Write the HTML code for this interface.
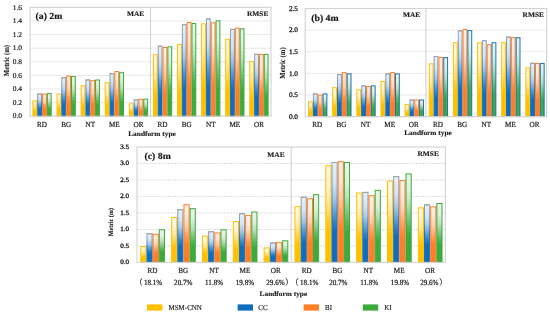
<!DOCTYPE html>
<html><head><meta charset="utf-8"><title>Metric by landform type</title>
<style>html,body{margin:0;padding:0;background:#fff;}body{width:550px;height:317px;overflow:hidden;}svg{display:block;}text{text-rendering:geometricPrecision;}text{font-family:'Liberation Serif', 'Times New Roman', serif;fill:#1a1a1a;}.b{font-weight:bold;fill:#000;}</style>
</head><body>
<svg width="550" height="317" viewBox="0 0 550 317">
<defs>
<linearGradient id="gy" x1="0" y1="0" x2="0" y2="1">
<stop offset="0.000" stop-color="#FFF9E6"/>
<stop offset="0.200" stop-color="#FFF4D1"/>
<stop offset="0.350" stop-color="#FFE8A3"/>
<stop offset="0.480" stop-color="#FFD861"/>
<stop offset="0.600" stop-color="#FFC924"/>
<stop offset="0.700" stop-color="#FFC000"/>
<stop offset="1.000" stop-color="#FFC000"/>
</linearGradient>
<linearGradient id="gb" x1="0" y1="0" x2="0" y2="1">
<stop offset="0.000" stop-color="#E7F0F8"/>
<stop offset="0.200" stop-color="#D4E5F3"/>
<stop offset="0.350" stop-color="#A8CBE8"/>
<stop offset="0.480" stop-color="#6AA5D7"/>
<stop offset="0.600" stop-color="#3082C7"/>
<stop offset="0.700" stop-color="#0E6EBE"/>
<stop offset="1.000" stop-color="#0E6EBE"/>
</linearGradient>
<linearGradient id="go" x1="0" y1="0" x2="0" y2="1">
<stop offset="0.000" stop-color="#FFF2E9"/>
<stop offset="0.200" stop-color="#FFE8D8"/>
<stop offset="0.350" stop-color="#FFD1B1"/>
<stop offset="0.480" stop-color="#FFB079"/>
<stop offset="0.600" stop-color="#FF9145"/>
<stop offset="0.700" stop-color="#FF7F27"/>
<stop offset="1.000" stop-color="#FF7F27"/>
</linearGradient>
<linearGradient id="gg" x1="0" y1="0" x2="0" y2="1">
<stop offset="0.000" stop-color="#ECF6EC"/>
<stop offset="0.200" stop-color="#DCF0DC"/>
<stop offset="0.350" stop-color="#BAE0BA"/>
<stop offset="0.480" stop-color="#87CA87"/>
<stop offset="0.600" stop-color="#59B659"/>
<stop offset="0.700" stop-color="#3EAA3E"/>
<stop offset="1.000" stop-color="#3EAA3E"/>
</linearGradient>
<linearGradient id="sb" x1="0" y1="0" x2="0" y2="1"><stop offset="0" stop-color="#9AA2B0"/><stop offset="0.3" stop-color="#6E92BC"/><stop offset="0.5" stop-color="#1A72BE"/></linearGradient>
</defs>
<rect width="550" height="317" fill="#fff"/>
<line x1="30.00" y1="102.60" x2="271.00" y2="102.60" stroke="#E8E8E8" stroke-width="1"/>
<line x1="30.00" y1="89.00" x2="271.00" y2="89.00" stroke="#E8E8E8" stroke-width="1"/>
<line x1="30.00" y1="75.40" x2="271.00" y2="75.40" stroke="#E8E8E8" stroke-width="1"/>
<line x1="30.00" y1="61.80" x2="271.00" y2="61.80" stroke="#E8E8E8" stroke-width="1"/>
<line x1="30.00" y1="48.20" x2="271.00" y2="48.20" stroke="#E8E8E8" stroke-width="1"/>
<line x1="30.00" y1="34.60" x2="271.00" y2="34.60" stroke="#E8E8E8" stroke-width="1"/>
<line x1="30.00" y1="21.00" x2="271.00" y2="21.00" stroke="#E8E8E8" stroke-width="1"/>
<rect x="32.91" y="100.86" width="3.82" height="15.34" fill="url(#gy)" stroke="#FFC000" stroke-width="1.00"/>
<rect x="37.73" y="94.06" width="3.82" height="22.14" fill="url(#gb)" stroke="url(#sb)" stroke-width="1.00"/>
<line x1="37.43" y1="94.06" x2="41.85" y2="94.06" stroke="#9DA3B0" stroke-width="1.00"/>
<rect x="42.55" y="94.06" width="3.82" height="22.14" fill="url(#go)" stroke="#FF7F27" stroke-width="1.00"/>
<rect x="47.37" y="93.58" width="3.82" height="22.62" fill="url(#gg)" stroke="#3EAA3E" stroke-width="1.00"/>
<rect x="57.01" y="94.06" width="3.82" height="22.14" fill="url(#gy)" stroke="#FFC000" stroke-width="1.00"/>
<rect x="61.83" y="77.74" width="3.82" height="38.46" fill="url(#gb)" stroke="url(#sb)" stroke-width="1.00"/>
<line x1="61.53" y1="77.74" x2="65.95" y2="77.74" stroke="#9DA3B0" stroke-width="1.00"/>
<rect x="66.65" y="76.10" width="3.82" height="40.10" fill="url(#go)" stroke="#FF7F27" stroke-width="1.00"/>
<rect x="71.47" y="76.58" width="3.82" height="39.62" fill="url(#gg)" stroke="#3EAA3E" stroke-width="1.00"/>
<rect x="81.11" y="85.69" width="3.82" height="30.51" fill="url(#gy)" stroke="#FFC000" stroke-width="1.00"/>
<rect x="85.93" y="79.98" width="3.82" height="36.22" fill="url(#gb)" stroke="url(#sb)" stroke-width="1.00"/>
<line x1="85.63" y1="79.98" x2="90.05" y2="79.98" stroke="#9DA3B0" stroke-width="1.00"/>
<rect x="90.75" y="80.66" width="3.82" height="35.54" fill="url(#go)" stroke="#FF7F27" stroke-width="1.00"/>
<rect x="95.57" y="79.98" width="3.82" height="36.22" fill="url(#gg)" stroke="#3EAA3E" stroke-width="1.00"/>
<rect x="105.21" y="82.70" width="3.82" height="33.50" fill="url(#gy)" stroke="#FFC000" stroke-width="1.00"/>
<rect x="110.03" y="73.66" width="3.82" height="42.54" fill="url(#gb)" stroke="url(#sb)" stroke-width="1.00"/>
<line x1="109.73" y1="73.66" x2="114.15" y2="73.66" stroke="#9DA3B0" stroke-width="1.00"/>
<rect x="114.85" y="71.55" width="3.82" height="44.65" fill="url(#go)" stroke="#FF7F27" stroke-width="1.00"/>
<rect x="119.67" y="72.70" width="3.82" height="43.50" fill="url(#gg)" stroke="#3EAA3E" stroke-width="1.00"/>
<rect x="129.31" y="103.78" width="3.82" height="12.42" fill="url(#gy)" stroke="#FFC000" stroke-width="1.00"/>
<rect x="134.13" y="99.77" width="3.82" height="16.43" fill="url(#gb)" stroke="url(#sb)" stroke-width="1.00"/>
<line x1="133.83" y1="99.77" x2="138.25" y2="99.77" stroke="#9DA3B0" stroke-width="1.00"/>
<rect x="138.95" y="99.36" width="3.82" height="16.84" fill="url(#go)" stroke="#FF7F27" stroke-width="1.00"/>
<rect x="143.77" y="99.16" width="3.82" height="17.04" fill="url(#gg)" stroke="#3EAA3E" stroke-width="1.00"/>
<rect x="153.41" y="54.75" width="3.82" height="61.45" fill="url(#gy)" stroke="#FFC000" stroke-width="1.00"/>
<rect x="158.23" y="46.18" width="3.82" height="70.02" fill="url(#gb)" stroke="url(#sb)" stroke-width="1.00"/>
<line x1="157.93" y1="46.18" x2="162.35" y2="46.18" stroke="#9DA3B0" stroke-width="1.00"/>
<rect x="163.05" y="47.48" width="3.82" height="68.72" fill="url(#go)" stroke="#FF7F27" stroke-width="1.00"/>
<rect x="167.87" y="46.80" width="3.82" height="69.40" fill="url(#gg)" stroke="#3EAA3E" stroke-width="1.00"/>
<rect x="177.51" y="44.48" width="3.82" height="71.72" fill="url(#gy)" stroke="#FFC000" stroke-width="1.00"/>
<rect x="182.33" y="24.70" width="3.82" height="91.50" fill="url(#gb)" stroke="url(#sb)" stroke-width="1.00"/>
<line x1="182.03" y1="24.70" x2="186.45" y2="24.70" stroke="#9DA3B0" stroke-width="1.00"/>
<rect x="187.15" y="22.52" width="3.82" height="93.68" fill="url(#go)" stroke="#FF7F27" stroke-width="1.00"/>
<rect x="191.97" y="23.54" width="3.82" height="92.66" fill="url(#gg)" stroke="#3EAA3E" stroke-width="1.00"/>
<rect x="201.61" y="23.81" width="3.82" height="92.39" fill="url(#gy)" stroke="#FFC000" stroke-width="1.00"/>
<rect x="206.43" y="18.98" width="3.82" height="97.22" fill="url(#gb)" stroke="url(#sb)" stroke-width="1.00"/>
<line x1="206.13" y1="18.98" x2="210.55" y2="18.98" stroke="#9DA3B0" stroke-width="1.00"/>
<rect x="211.25" y="22.86" width="3.82" height="93.34" fill="url(#go)" stroke="#FF7F27" stroke-width="1.00"/>
<rect x="216.07" y="20.82" width="3.82" height="95.38" fill="url(#gg)" stroke="#3EAA3E" stroke-width="1.00"/>
<rect x="225.71" y="39.32" width="3.82" height="76.88" fill="url(#gy)" stroke="#FFC000" stroke-width="1.00"/>
<rect x="230.53" y="29.39" width="3.82" height="86.81" fill="url(#gb)" stroke="url(#sb)" stroke-width="1.00"/>
<line x1="230.23" y1="29.39" x2="234.65" y2="29.39" stroke="#9DA3B0" stroke-width="1.00"/>
<rect x="235.35" y="28.16" width="3.82" height="88.04" fill="url(#go)" stroke="#FF7F27" stroke-width="1.00"/>
<rect x="240.17" y="28.84" width="3.82" height="87.36" fill="url(#gg)" stroke="#3EAA3E" stroke-width="1.00"/>
<rect x="249.81" y="61.62" width="3.82" height="54.58" fill="url(#gy)" stroke="#FFC000" stroke-width="1.00"/>
<rect x="254.63" y="54.34" width="3.82" height="61.86" fill="url(#gb)" stroke="url(#sb)" stroke-width="1.00"/>
<line x1="254.33" y1="54.34" x2="258.75" y2="54.34" stroke="#9DA3B0" stroke-width="1.00"/>
<rect x="259.45" y="54.34" width="3.82" height="61.86" fill="url(#go)" stroke="#FF7F27" stroke-width="1.00"/>
<rect x="264.27" y="54.34" width="3.82" height="61.86" fill="url(#gg)" stroke="#3EAA3E" stroke-width="1.00"/>
<rect x="30.00" y="7.40" width="241.00" height="108.80" fill="none" stroke="#D2D2D2" stroke-width="1.1"/>
<line x1="150.50" y1="7.40" x2="150.50" y2="116.20" stroke="#D2D2D2" stroke-width="1.1"/>
<text transform="translate(22.00 118.45) scale(1.040 1)" font-size="7.20" font-weight="normal" text-anchor="end" stroke="#1a1a1a" stroke-width="0.20">0.0</text>
<text transform="translate(22.00 104.85) scale(1.040 1)" font-size="7.20" font-weight="normal" text-anchor="end" stroke="#1a1a1a" stroke-width="0.20">0.2</text>
<text transform="translate(22.00 91.25) scale(1.040 1)" font-size="7.20" font-weight="normal" text-anchor="end" stroke="#1a1a1a" stroke-width="0.20">0.4</text>
<text transform="translate(22.00 77.65) scale(1.040 1)" font-size="7.20" font-weight="normal" text-anchor="end" stroke="#1a1a1a" stroke-width="0.20">0.6</text>
<text transform="translate(22.00 64.05) scale(1.040 1)" font-size="7.20" font-weight="normal" text-anchor="end" stroke="#1a1a1a" stroke-width="0.20">0.8</text>
<text transform="translate(22.00 50.45) scale(1.040 1)" font-size="7.20" font-weight="normal" text-anchor="end" stroke="#1a1a1a" stroke-width="0.20">1.0</text>
<text transform="translate(22.00 36.85) scale(1.040 1)" font-size="7.20" font-weight="normal" text-anchor="end" stroke="#1a1a1a" stroke-width="0.20">1.2</text>
<text transform="translate(22.00 23.25) scale(1.040 1)" font-size="7.20" font-weight="normal" text-anchor="end" stroke="#1a1a1a" stroke-width="0.20">1.4</text>
<text transform="translate(22.00 9.65) scale(1.040 1)" font-size="7.20" font-weight="normal" text-anchor="end" stroke="#1a1a1a" stroke-width="0.20">1.6</text>
<text transform="translate(42.05 126.50) scale(0.930 1)" font-size="7.70" font-weight="normal" text-anchor="middle" stroke="#1a1a1a" stroke-width="0.20">RD</text>
<text transform="translate(66.15 126.50) scale(0.930 1)" font-size="7.70" font-weight="normal" text-anchor="middle" stroke="#1a1a1a" stroke-width="0.20">BG</text>
<text transform="translate(90.25 126.50) scale(0.930 1)" font-size="7.70" font-weight="normal" text-anchor="middle" stroke="#1a1a1a" stroke-width="0.20">NT</text>
<text transform="translate(114.35 126.50) scale(0.930 1)" font-size="7.70" font-weight="normal" text-anchor="middle" stroke="#1a1a1a" stroke-width="0.20">ME</text>
<text transform="translate(138.45 126.50) scale(0.930 1)" font-size="7.70" font-weight="normal" text-anchor="middle" stroke="#1a1a1a" stroke-width="0.20">OR</text>
<text transform="translate(162.55 126.50) scale(0.930 1)" font-size="7.70" font-weight="normal" text-anchor="middle" stroke="#1a1a1a" stroke-width="0.20">RD</text>
<text transform="translate(186.65 126.50) scale(0.930 1)" font-size="7.70" font-weight="normal" text-anchor="middle" stroke="#1a1a1a" stroke-width="0.20">BG</text>
<text transform="translate(210.75 126.50) scale(0.930 1)" font-size="7.70" font-weight="normal" text-anchor="middle" stroke="#1a1a1a" stroke-width="0.20">NT</text>
<text transform="translate(234.85 126.50) scale(0.930 1)" font-size="7.70" font-weight="normal" text-anchor="middle" stroke="#1a1a1a" stroke-width="0.20">ME</text>
<text transform="translate(258.95 126.50) scale(0.930 1)" font-size="7.70" font-weight="normal" text-anchor="middle" stroke="#1a1a1a" stroke-width="0.20">OR</text>
<text transform="translate(35.50 19.40) scale(1.050 1)" font-size="9.30" font-weight="bold" text-anchor="start" stroke="#1a1a1a" stroke-width="0.20">(a) 2m</text>
<text transform="translate(144.30 15.60) scale(1.060 1)" font-size="7.00" font-weight="bold" text-anchor="end" stroke="#1a1a1a" stroke-width="0.15">MAE</text>
<text transform="translate(268.40 15.50) scale(1.060 1)" font-size="7.00" font-weight="bold" text-anchor="end" stroke="#1a1a1a" stroke-width="0.15">RMSE</text>
<text transform="translate(152.00 135.50) scale(1.050 1)" font-size="7.00" font-weight="bold" text-anchor="middle" stroke="#1a1a1a" stroke-width="0.12">Landform type</text>
<text transform="translate(9.00 60.60) rotate(-90) scale(1 1.140)" font-size="6.75" font-weight="bold" text-anchor="middle" stroke="#1a1a1a" stroke-width="0.10">Metric (m)</text>
<line x1="305.20" y1="94.98" x2="546.60" y2="94.98" stroke="#DADADA" stroke-width="0.9" stroke-dasharray="1 0.7"/>
<line x1="305.20" y1="73.36" x2="546.60" y2="73.36" stroke="#DADADA" stroke-width="0.9" stroke-dasharray="1 0.7"/>
<line x1="305.20" y1="51.74" x2="546.60" y2="51.74" stroke="#DADADA" stroke-width="0.9" stroke-dasharray="1 0.7"/>
<line x1="305.20" y1="30.12" x2="546.60" y2="30.12" stroke="#DADADA" stroke-width="0.9" stroke-dasharray="1 0.7"/>
<rect x="308.56" y="101.79" width="3.83" height="14.81" fill="url(#gy)" stroke="#FFC000" stroke-width="1.00"/>
<rect x="313.39" y="93.88" width="3.83" height="22.72" fill="url(#gb)" stroke="url(#sb)" stroke-width="1.00"/>
<line x1="313.09" y1="93.88" x2="317.52" y2="93.88" stroke="#9DA3B0" stroke-width="1.00"/>
<rect x="318.22" y="95.05" width="3.83" height="21.55" fill="url(#go)" stroke="#FF7F27" stroke-width="1.00"/>
<rect x="323.05" y="93.88" width="3.83" height="22.72" fill="url(#gg)" stroke="#1A72BE" stroke-width="1.00"/>
<rect x="332.70" y="87.70" width="3.83" height="28.90" fill="url(#gy)" stroke="#FFC000" stroke-width="1.00"/>
<rect x="337.53" y="74.55" width="3.83" height="42.05" fill="url(#gb)" stroke="url(#sb)" stroke-width="1.00"/>
<line x1="337.23" y1="74.55" x2="341.66" y2="74.55" stroke="#9DA3B0" stroke-width="1.00"/>
<rect x="342.36" y="72.56" width="3.83" height="44.04" fill="url(#go)" stroke="#FF7F27" stroke-width="1.00"/>
<rect x="347.19" y="73.86" width="3.83" height="42.74" fill="url(#gg)" stroke="#1A72BE" stroke-width="1.00"/>
<rect x="356.84" y="89.77" width="3.83" height="26.83" fill="url(#gy)" stroke="#FFC000" stroke-width="1.00"/>
<rect x="361.67" y="85.88" width="3.83" height="30.72" fill="url(#gb)" stroke="url(#sb)" stroke-width="1.00"/>
<line x1="361.37" y1="85.88" x2="365.80" y2="85.88" stroke="#9DA3B0" stroke-width="1.00"/>
<rect x="366.50" y="86.57" width="3.83" height="30.03" fill="url(#go)" stroke="#FF7F27" stroke-width="1.00"/>
<rect x="371.33" y="85.88" width="3.83" height="30.72" fill="url(#gg)" stroke="#1A72BE" stroke-width="1.00"/>
<rect x="380.98" y="81.38" width="3.83" height="35.22" fill="url(#gy)" stroke="#FFC000" stroke-width="1.00"/>
<rect x="385.81" y="73.86" width="3.83" height="42.74" fill="url(#gb)" stroke="url(#sb)" stroke-width="1.00"/>
<line x1="385.51" y1="73.86" x2="389.94" y2="73.86" stroke="#9DA3B0" stroke-width="1.00"/>
<rect x="390.64" y="72.56" width="3.83" height="44.04" fill="url(#go)" stroke="#FF7F27" stroke-width="1.00"/>
<rect x="395.47" y="73.86" width="3.83" height="42.74" fill="url(#gg)" stroke="#1A72BE" stroke-width="1.00"/>
<rect x="405.12" y="104.56" width="3.83" height="12.04" fill="url(#gy)" stroke="#FFC000" stroke-width="1.00"/>
<rect x="409.95" y="99.98" width="3.83" height="16.62" fill="url(#gb)" stroke="url(#sb)" stroke-width="1.00"/>
<line x1="409.65" y1="99.98" x2="414.08" y2="99.98" stroke="#9DA3B0" stroke-width="1.00"/>
<rect x="414.78" y="99.98" width="3.83" height="16.62" fill="url(#go)" stroke="#FF7F27" stroke-width="1.00"/>
<rect x="419.61" y="99.98" width="3.83" height="16.62" fill="url(#gg)" stroke="#1A72BE" stroke-width="1.00"/>
<rect x="429.26" y="63.87" width="3.83" height="52.73" fill="url(#gy)" stroke="#FFC000" stroke-width="1.00"/>
<rect x="434.09" y="56.52" width="3.83" height="60.08" fill="url(#gb)" stroke="url(#sb)" stroke-width="1.00"/>
<line x1="433.79" y1="56.52" x2="438.22" y2="56.52" stroke="#9DA3B0" stroke-width="1.00"/>
<rect x="438.92" y="57.39" width="3.83" height="59.21" fill="url(#go)" stroke="#FF7F27" stroke-width="1.00"/>
<rect x="443.75" y="57.64" width="3.83" height="58.95" fill="url(#gg)" stroke="#1A72BE" stroke-width="1.00"/>
<rect x="453.40" y="42.68" width="3.83" height="73.92" fill="url(#gy)" stroke="#FFC000" stroke-width="1.00"/>
<rect x="458.23" y="30.84" width="3.83" height="85.76" fill="url(#gb)" stroke="url(#sb)" stroke-width="1.00"/>
<line x1="457.93" y1="30.84" x2="462.36" y2="30.84" stroke="#9DA3B0" stroke-width="1.00"/>
<rect x="463.06" y="29.50" width="3.83" height="87.10" fill="url(#go)" stroke="#FF7F27" stroke-width="1.00"/>
<rect x="467.89" y="30.58" width="3.83" height="86.02" fill="url(#gg)" stroke="#1A72BE" stroke-width="1.00"/>
<rect x="477.54" y="42.73" width="3.83" height="73.87" fill="url(#gy)" stroke="#FFC000" stroke-width="1.00"/>
<rect x="482.37" y="40.74" width="3.83" height="75.86" fill="url(#gb)" stroke="url(#sb)" stroke-width="1.00"/>
<line x1="482.07" y1="40.74" x2="486.50" y2="40.74" stroke="#9DA3B0" stroke-width="1.00"/>
<rect x="487.20" y="44.59" width="3.83" height="72.01" fill="url(#go)" stroke="#FF7F27" stroke-width="1.00"/>
<rect x="492.03" y="42.73" width="3.83" height="73.87" fill="url(#gg)" stroke="#1A72BE" stroke-width="1.00"/>
<rect x="501.68" y="42.68" width="3.83" height="73.92" fill="url(#gy)" stroke="#FFC000" stroke-width="1.00"/>
<rect x="506.51" y="37.11" width="3.83" height="79.49" fill="url(#gb)" stroke="url(#sb)" stroke-width="1.00"/>
<line x1="506.21" y1="37.11" x2="510.64" y2="37.11" stroke="#9DA3B0" stroke-width="1.00"/>
<rect x="511.34" y="37.50" width="3.83" height="79.10" fill="url(#go)" stroke="#FF7F27" stroke-width="1.00"/>
<rect x="516.17" y="37.75" width="3.83" height="78.85" fill="url(#gg)" stroke="#1A72BE" stroke-width="1.00"/>
<rect x="525.82" y="67.81" width="3.83" height="48.79" fill="url(#gy)" stroke="#FFC000" stroke-width="1.00"/>
<rect x="530.65" y="63.27" width="3.83" height="53.33" fill="url(#gb)" stroke="url(#sb)" stroke-width="1.00"/>
<line x1="530.35" y1="63.27" x2="534.78" y2="63.27" stroke="#9DA3B0" stroke-width="1.00"/>
<rect x="535.48" y="63.44" width="3.83" height="53.16" fill="url(#go)" stroke="#FF7F27" stroke-width="1.00"/>
<rect x="540.31" y="63.44" width="3.83" height="53.16" fill="url(#gg)" stroke="#1A72BE" stroke-width="1.00"/>
<rect x="305.20" y="8.50" width="241.40" height="108.10" fill="none" stroke="#D2D2D2" stroke-width="1.1"/>
<line x1="425.90" y1="8.50" x2="425.90" y2="116.60" stroke="#D2D2D2" stroke-width="1.1"/>
<text transform="translate(298.00 118.80) scale(1.040 1)" font-size="7.00" font-weight="normal" text-anchor="end" stroke="#1a1a1a" stroke-width="0.30">0.0</text>
<text transform="translate(298.00 97.18) scale(1.040 1)" font-size="7.00" font-weight="normal" text-anchor="end" stroke="#1a1a1a" stroke-width="0.30">0.5</text>
<text transform="translate(298.00 75.56) scale(1.040 1)" font-size="7.00" font-weight="normal" text-anchor="end" stroke="#1a1a1a" stroke-width="0.30">1.0</text>
<text transform="translate(298.00 53.94) scale(1.040 1)" font-size="7.00" font-weight="normal" text-anchor="end" stroke="#1a1a1a" stroke-width="0.30">1.5</text>
<text transform="translate(298.00 32.32) scale(1.040 1)" font-size="7.00" font-weight="normal" text-anchor="end" stroke="#1a1a1a" stroke-width="0.30">2.0</text>
<text transform="translate(298.00 10.70) scale(1.040 1)" font-size="7.00" font-weight="normal" text-anchor="end" stroke="#1a1a1a" stroke-width="0.30">2.5</text>
<text transform="translate(317.27 127.20) scale(0.930 1)" font-size="7.70" font-weight="normal" text-anchor="middle" stroke="#1a1a1a" stroke-width="0.20">RD</text>
<text transform="translate(341.41 127.20) scale(0.930 1)" font-size="7.70" font-weight="normal" text-anchor="middle" stroke="#1a1a1a" stroke-width="0.20">BG</text>
<text transform="translate(365.55 127.20) scale(0.930 1)" font-size="7.70" font-weight="normal" text-anchor="middle" stroke="#1a1a1a" stroke-width="0.20">NT</text>
<text transform="translate(389.69 127.20) scale(0.930 1)" font-size="7.70" font-weight="normal" text-anchor="middle" stroke="#1a1a1a" stroke-width="0.20">ME</text>
<text transform="translate(413.83 127.20) scale(0.930 1)" font-size="7.70" font-weight="normal" text-anchor="middle" stroke="#1a1a1a" stroke-width="0.20">OR</text>
<text transform="translate(437.97 127.20) scale(0.930 1)" font-size="7.70" font-weight="normal" text-anchor="middle" stroke="#1a1a1a" stroke-width="0.20">RD</text>
<text transform="translate(462.11 127.20) scale(0.930 1)" font-size="7.70" font-weight="normal" text-anchor="middle" stroke="#1a1a1a" stroke-width="0.20">BG</text>
<text transform="translate(486.25 127.20) scale(0.930 1)" font-size="7.70" font-weight="normal" text-anchor="middle" stroke="#1a1a1a" stroke-width="0.20">NT</text>
<text transform="translate(510.39 127.20) scale(0.930 1)" font-size="7.70" font-weight="normal" text-anchor="middle" stroke="#1a1a1a" stroke-width="0.20">ME</text>
<text transform="translate(534.53 127.20) scale(0.930 1)" font-size="7.70" font-weight="normal" text-anchor="middle" stroke="#1a1a1a" stroke-width="0.20">OR</text>
<text transform="translate(311.20 20.90) scale(1.050 1)" font-size="9.30" font-weight="bold" text-anchor="start" stroke="#1a1a1a" stroke-width="0.20">(b) 4m</text>
<text transform="translate(420.20 17.15) scale(1.060 1)" font-size="7.00" font-weight="bold" text-anchor="end" stroke="#1a1a1a" stroke-width="0.15">MAE</text>
<text transform="translate(544.00 17.05) scale(1.060 1)" font-size="7.00" font-weight="bold" text-anchor="end" stroke="#1a1a1a" stroke-width="0.15">RMSE</text>
<text transform="translate(428.00 135.40) scale(1.050 1)" font-size="7.00" font-weight="bold" text-anchor="middle" stroke="#1a1a1a" stroke-width="0.12">Landform type</text>
<text transform="translate(284.60 63.00) rotate(-90) scale(1 1.140)" font-size="6.75" font-weight="bold" text-anchor="middle" stroke="#1a1a1a" stroke-width="0.10">Metric (m)</text>
<line x1="137.00" y1="245.91" x2="445.40" y2="245.91" stroke="#D6D6D6" stroke-width="0.85" stroke-dasharray="2 1.1"/>
<line x1="137.00" y1="229.43" x2="445.40" y2="229.43" stroke="#D6D6D6" stroke-width="0.85" stroke-dasharray="2 1.1"/>
<line x1="137.00" y1="212.94" x2="445.40" y2="212.94" stroke="#D6D6D6" stroke-width="0.85" stroke-dasharray="2 1.1"/>
<line x1="137.00" y1="196.46" x2="445.40" y2="196.46" stroke="#D6D6D6" stroke-width="0.85" stroke-dasharray="2 1.1"/>
<line x1="137.00" y1="179.97" x2="445.40" y2="179.97" stroke="#D6D6D6" stroke-width="0.85" stroke-dasharray="2 1.1"/>
<line x1="137.00" y1="163.49" x2="445.40" y2="163.49" stroke="#D6D6D6" stroke-width="0.85" stroke-dasharray="2 1.1"/>
<rect x="140.78" y="246.58" width="5.17" height="15.82" fill="url(#gy)" stroke="#FFC000" stroke-width="1.00"/>
<rect x="146.95" y="233.72" width="5.17" height="28.68" fill="url(#gb)" stroke="url(#sb)" stroke-width="1.00"/>
<line x1="146.65" y1="233.72" x2="152.42" y2="233.72" stroke="#9DA3B0" stroke-width="1.00"/>
<rect x="153.12" y="234.21" width="5.17" height="28.19" fill="url(#go)" stroke="#FF7F27" stroke-width="1.00"/>
<rect x="159.29" y="229.76" width="5.17" height="32.64" fill="url(#gg)" stroke="#3EAA3E" stroke-width="1.00"/>
<rect x="171.62" y="217.56" width="5.17" height="44.84" fill="url(#gy)" stroke="#FFC000" stroke-width="1.00"/>
<rect x="177.79" y="209.65" width="5.17" height="52.75" fill="url(#gb)" stroke="url(#sb)" stroke-width="1.00"/>
<line x1="177.49" y1="209.65" x2="183.26" y2="209.65" stroke="#9DA3B0" stroke-width="1.00"/>
<rect x="183.96" y="204.71" width="5.17" height="57.69" fill="url(#go)" stroke="#FF7F27" stroke-width="1.00"/>
<rect x="190.13" y="208.66" width="5.17" height="53.74" fill="url(#gg)" stroke="#3EAA3E" stroke-width="1.00"/>
<rect x="202.46" y="236.19" width="5.17" height="26.21" fill="url(#gy)" stroke="#FFC000" stroke-width="1.00"/>
<rect x="208.63" y="231.74" width="5.17" height="30.66" fill="url(#gb)" stroke="url(#sb)" stroke-width="1.00"/>
<line x1="208.33" y1="231.74" x2="214.10" y2="231.74" stroke="#9DA3B0" stroke-width="1.00"/>
<rect x="214.80" y="232.90" width="5.17" height="29.50" fill="url(#go)" stroke="#FF7F27" stroke-width="1.00"/>
<rect x="220.97" y="229.76" width="5.17" height="32.64" fill="url(#gg)" stroke="#3EAA3E" stroke-width="1.00"/>
<rect x="233.30" y="221.52" width="5.17" height="40.88" fill="url(#gy)" stroke="#FFC000" stroke-width="1.00"/>
<rect x="239.47" y="213.77" width="5.17" height="48.63" fill="url(#gb)" stroke="url(#sb)" stroke-width="1.00"/>
<line x1="239.17" y1="213.77" x2="244.94" y2="213.77" stroke="#9DA3B0" stroke-width="1.00"/>
<rect x="245.64" y="215.42" width="5.17" height="46.98" fill="url(#go)" stroke="#FF7F27" stroke-width="1.00"/>
<rect x="251.81" y="211.96" width="5.17" height="50.44" fill="url(#gg)" stroke="#3EAA3E" stroke-width="1.00"/>
<rect x="264.14" y="247.90" width="5.17" height="14.50" fill="url(#gy)" stroke="#FFC000" stroke-width="1.00"/>
<rect x="270.31" y="242.95" width="5.17" height="19.45" fill="url(#gb)" stroke="url(#sb)" stroke-width="1.00"/>
<line x1="270.01" y1="242.95" x2="275.78" y2="242.95" stroke="#9DA3B0" stroke-width="1.00"/>
<rect x="276.48" y="242.62" width="5.17" height="19.78" fill="url(#go)" stroke="#FF7F27" stroke-width="1.00"/>
<rect x="282.65" y="240.81" width="5.17" height="21.59" fill="url(#gg)" stroke="#3EAA3E" stroke-width="1.00"/>
<rect x="294.98" y="206.65" width="5.17" height="55.75" fill="url(#gy)" stroke="#FFC000" stroke-width="1.00"/>
<rect x="301.15" y="197.29" width="5.17" height="65.11" fill="url(#gb)" stroke="url(#sb)" stroke-width="1.00"/>
<line x1="300.85" y1="197.29" x2="306.62" y2="197.29" stroke="#9DA3B0" stroke-width="1.00"/>
<rect x="307.32" y="198.74" width="5.17" height="63.66" fill="url(#go)" stroke="#FF7F27" stroke-width="1.00"/>
<rect x="313.49" y="194.65" width="5.17" height="67.75" fill="url(#gg)" stroke="#3EAA3E" stroke-width="1.00"/>
<rect x="325.82" y="165.63" width="5.17" height="96.77" fill="url(#gy)" stroke="#FFC000" stroke-width="1.00"/>
<rect x="331.99" y="162.47" width="5.17" height="99.93" fill="url(#gb)" stroke="url(#sb)" stroke-width="1.00"/>
<line x1="331.69" y1="162.47" x2="337.46" y2="162.47" stroke="#9DA3B0" stroke-width="1.00"/>
<rect x="338.16" y="161.68" width="5.17" height="100.72" fill="url(#go)" stroke="#FF7F27" stroke-width="1.00"/>
<rect x="344.33" y="162.47" width="5.17" height="99.93" fill="url(#gg)" stroke="#3EAA3E" stroke-width="1.00"/>
<rect x="356.66" y="193.00" width="5.17" height="69.40" fill="url(#gy)" stroke="#FFC000" stroke-width="1.00"/>
<rect x="362.83" y="192.41" width="5.17" height="69.99" fill="url(#gb)" stroke="url(#sb)" stroke-width="1.00"/>
<line x1="362.53" y1="192.41" x2="368.30" y2="192.41" stroke="#9DA3B0" stroke-width="1.00"/>
<rect x="369.00" y="195.67" width="5.17" height="66.73" fill="url(#go)" stroke="#FF7F27" stroke-width="1.00"/>
<rect x="375.17" y="190.36" width="5.17" height="72.04" fill="url(#gg)" stroke="#3EAA3E" stroke-width="1.00"/>
<rect x="387.50" y="181.13" width="5.17" height="81.27" fill="url(#gy)" stroke="#FFC000" stroke-width="1.00"/>
<rect x="393.67" y="176.58" width="5.17" height="85.82" fill="url(#gb)" stroke="url(#sb)" stroke-width="1.00"/>
<line x1="393.37" y1="176.58" x2="399.14" y2="176.58" stroke="#9DA3B0" stroke-width="1.00"/>
<rect x="399.84" y="180.54" width="5.17" height="81.86" fill="url(#go)" stroke="#FF7F27" stroke-width="1.00"/>
<rect x="406.01" y="173.88" width="5.17" height="88.52" fill="url(#gg)" stroke="#3EAA3E" stroke-width="1.00"/>
<rect x="418.34" y="207.84" width="5.17" height="54.56" fill="url(#gy)" stroke="#FFC000" stroke-width="1.00"/>
<rect x="424.51" y="204.90" width="5.17" height="57.50" fill="url(#gb)" stroke="url(#sb)" stroke-width="1.00"/>
<line x1="424.21" y1="204.90" x2="429.98" y2="204.90" stroke="#9DA3B0" stroke-width="1.00"/>
<rect x="430.68" y="206.85" width="5.17" height="55.55" fill="url(#go)" stroke="#FF7F27" stroke-width="1.00"/>
<rect x="436.85" y="203.55" width="5.17" height="58.85" fill="url(#gg)" stroke="#3EAA3E" stroke-width="1.00"/>
<rect x="137.00" y="147.00" width="308.40" height="115.40" fill="none" stroke="#D2D2D2" stroke-width="1.1"/>
<line x1="291.20" y1="147.00" x2="291.20" y2="262.40" stroke="#D2D2D2" stroke-width="1.1"/>
<text transform="translate(129.10 264.40) scale(1.080 1)" font-size="6.60" font-weight="normal" text-anchor="end" stroke="#1a1a1a" stroke-width="0.30">0.0</text>
<text transform="translate(129.10 247.91) scale(1.080 1)" font-size="6.60" font-weight="normal" text-anchor="end" stroke="#1a1a1a" stroke-width="0.30">0.5</text>
<text transform="translate(129.10 231.43) scale(1.080 1)" font-size="6.60" font-weight="normal" text-anchor="end" stroke="#1a1a1a" stroke-width="0.30">1.0</text>
<text transform="translate(129.10 214.94) scale(1.080 1)" font-size="6.60" font-weight="normal" text-anchor="end" stroke="#1a1a1a" stroke-width="0.30">1.5</text>
<text transform="translate(129.10 198.46) scale(1.080 1)" font-size="6.60" font-weight="normal" text-anchor="end" stroke="#1a1a1a" stroke-width="0.30">2.0</text>
<text transform="translate(129.10 181.97) scale(1.080 1)" font-size="6.60" font-weight="normal" text-anchor="end" stroke="#1a1a1a" stroke-width="0.30">2.5</text>
<text transform="translate(129.10 165.49) scale(1.080 1)" font-size="6.60" font-weight="normal" text-anchor="end" stroke="#1a1a1a" stroke-width="0.30">3.0</text>
<text transform="translate(129.10 149.00) scale(1.080 1)" font-size="6.60" font-weight="normal" text-anchor="end" stroke="#1a1a1a" stroke-width="0.30">3.5</text>
<text transform="translate(152.42 273.10) scale(0.930 1)" font-size="7.70" font-weight="normal" text-anchor="middle" stroke="#1a1a1a" stroke-width="0.20">RD</text>
<text transform="translate(148.82 285.00) scale(0.900 1)" font-size="7.90" font-weight="normal" text-anchor="middle" stroke="#1a1a1a" stroke-width="0.22" style="font-family:'Liberation Serif', 'Noto Serif CJK SC', 'Noto Sans CJK SC', serif">（<tspan dx="1.6">18.1%</tspan></text>
<text transform="translate(183.26 273.10) scale(0.930 1)" font-size="7.70" font-weight="normal" text-anchor="middle" stroke="#1a1a1a" stroke-width="0.20">BG</text>
<text transform="translate(183.26 285.00) scale(0.900 1)" font-size="7.90" font-weight="normal" text-anchor="middle" stroke="#1a1a1a" stroke-width="0.22" style="font-family:'Liberation Serif', 'Noto Serif CJK SC', 'Noto Sans CJK SC', serif">20.7%</text>
<text transform="translate(214.10 273.10) scale(0.930 1)" font-size="7.70" font-weight="normal" text-anchor="middle" stroke="#1a1a1a" stroke-width="0.20">NT</text>
<text transform="translate(214.10 285.00) scale(0.900 1)" font-size="7.90" font-weight="normal" text-anchor="middle" stroke="#1a1a1a" stroke-width="0.22" style="font-family:'Liberation Serif', 'Noto Serif CJK SC', 'Noto Sans CJK SC', serif">11.8%</text>
<text transform="translate(244.94 273.10) scale(0.930 1)" font-size="7.70" font-weight="normal" text-anchor="middle" stroke="#1a1a1a" stroke-width="0.20">ME</text>
<text transform="translate(244.94 285.00) scale(0.900 1)" font-size="7.90" font-weight="normal" text-anchor="middle" stroke="#1a1a1a" stroke-width="0.22" style="font-family:'Liberation Serif', 'Noto Serif CJK SC', 'Noto Sans CJK SC', serif">19.8%</text>
<text transform="translate(275.78 273.10) scale(0.930 1)" font-size="7.70" font-weight="normal" text-anchor="middle" stroke="#1a1a1a" stroke-width="0.20">OR</text>
<text transform="translate(279.38 285.00) scale(0.900 1)" font-size="7.90" font-weight="normal" text-anchor="middle" stroke="#1a1a1a" stroke-width="0.22" style="font-family:'Liberation Serif', 'Noto Serif CJK SC', 'Noto Sans CJK SC', serif">29.6%<tspan dx="0.8">）</tspan></text>
<text transform="translate(306.62 273.10) scale(0.930 1)" font-size="7.70" font-weight="normal" text-anchor="middle" stroke="#1a1a1a" stroke-width="0.20">RD</text>
<text transform="translate(304.92 285.00) scale(0.900 1)" font-size="7.90" font-weight="normal" text-anchor="middle" stroke="#1a1a1a" stroke-width="0.22" style="font-family:'Liberation Serif', 'Noto Serif CJK SC', 'Noto Sans CJK SC', serif">（<tspan dx="1.6">18.1%</tspan></text>
<text transform="translate(337.46 273.10) scale(0.930 1)" font-size="7.70" font-weight="normal" text-anchor="middle" stroke="#1a1a1a" stroke-width="0.20">BG</text>
<text transform="translate(338.36 285.00) scale(0.900 1)" font-size="7.90" font-weight="normal" text-anchor="middle" stroke="#1a1a1a" stroke-width="0.22" style="font-family:'Liberation Serif', 'Noto Serif CJK SC', 'Noto Sans CJK SC', serif">20.7%</text>
<text transform="translate(368.30 273.10) scale(0.930 1)" font-size="7.70" font-weight="normal" text-anchor="middle" stroke="#1a1a1a" stroke-width="0.20">NT</text>
<text transform="translate(369.20 285.00) scale(0.900 1)" font-size="7.90" font-weight="normal" text-anchor="middle" stroke="#1a1a1a" stroke-width="0.22" style="font-family:'Liberation Serif', 'Noto Serif CJK SC', 'Noto Sans CJK SC', serif">11.8%</text>
<text transform="translate(399.14 273.10) scale(0.930 1)" font-size="7.70" font-weight="normal" text-anchor="middle" stroke="#1a1a1a" stroke-width="0.20">ME</text>
<text transform="translate(400.04 285.00) scale(0.900 1)" font-size="7.90" font-weight="normal" text-anchor="middle" stroke="#1a1a1a" stroke-width="0.22" style="font-family:'Liberation Serif', 'Noto Serif CJK SC', 'Noto Sans CJK SC', serif">19.8%</text>
<text transform="translate(429.98 273.10) scale(0.930 1)" font-size="7.70" font-weight="normal" text-anchor="middle" stroke="#1a1a1a" stroke-width="0.20">OR</text>
<text transform="translate(433.28 285.00) scale(0.900 1)" font-size="7.90" font-weight="normal" text-anchor="middle" stroke="#1a1a1a" stroke-width="0.22" style="font-family:'Liberation Serif', 'Noto Serif CJK SC', 'Noto Sans CJK SC', serif">29.6%<tspan dx="0.8">）</tspan></text>
<text transform="translate(144.50 159.40) scale(1.050 1)" font-size="9.30" font-weight="bold" text-anchor="start" stroke="#1a1a1a" stroke-width="0.20">(c) 8m</text>
<text transform="translate(284.60 156.50) scale(1.060 1)" font-size="7.00" font-weight="bold" text-anchor="end" stroke="#1a1a1a" stroke-width="0.15">MAE</text>
<text transform="translate(438.90 156.30) scale(1.060 1)" font-size="7.00" font-weight="bold" text-anchor="end" stroke="#1a1a1a" stroke-width="0.15">RMSE</text>
<text transform="translate(283.40 295.50) scale(1.050 1)" font-size="7.00" font-weight="bold" text-anchor="middle" stroke="#1a1a1a" stroke-width="0.12">Landform type</text>
<text transform="translate(112.60 222.20) rotate(-90) scale(1 1.100)" font-size="6.10" font-weight="bold" text-anchor="middle" stroke="#1a1a1a" stroke-width="0.10">Metric (m)</text>
<rect x="147.00" y="304.4" width="15.4" height="6.2" fill="#FFC000"/>
<text transform="translate(168.50 309.60) scale(0.920 1)" font-size="7.60" font-weight="normal" text-anchor="start" stroke="#1a1a1a" stroke-width="0.15">MSM-CNN</text>
<rect x="237.60" y="304.4" width="15.4" height="6.2" fill="#0E6EBE"/>
<text transform="translate(258.30 309.60) scale(0.920 1)" font-size="7.60" font-weight="normal" text-anchor="start" stroke="#1a1a1a" stroke-width="0.15">CC</text>
<rect x="303.60" y="304.4" width="15.4" height="6.2" fill="#FF7F27"/>
<text transform="translate(325.00 309.60) scale(0.920 1)" font-size="7.60" font-weight="normal" text-anchor="start" stroke="#1a1a1a" stroke-width="0.15">BI</text>
<rect x="362.80" y="304.4" width="15.4" height="6.2" fill="#3EAA3E"/>
<text transform="translate(384.30 309.60) scale(0.920 1)" font-size="7.60" font-weight="normal" text-anchor="start" stroke="#1a1a1a" stroke-width="0.15">KI</text>
</svg>
</body></html>
